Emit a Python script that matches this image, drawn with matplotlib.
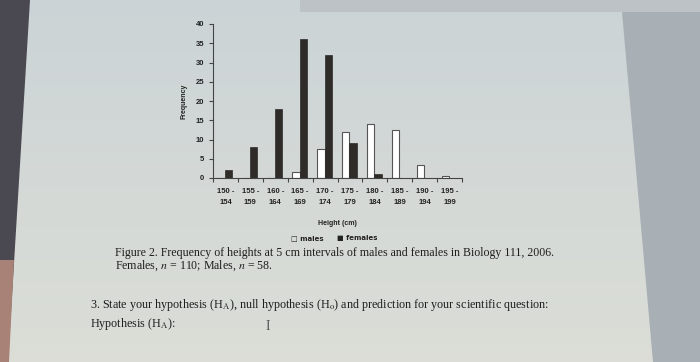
import numpy as np
import matplotlib
matplotlib.use('Agg')
import matplotlib.pyplot as plt
from matplotlib.patches import Polygon

# Height classes (cm) and counts
bins = ['150 -\n154', '155 -\n159', '160 -\n164', '165 -\n169', '170 -\n174',
        '175 -\n179', '180 -\n184', '185 -\n189', '190 -\n194', '195 -\n199']
males = [0, 0, 0, 1.5, 7.5, 12, 14, 12.5, 3.5, 0.5]
females = [2, 8, 18, 36, 32, 9, 1, 0, 0, 0]

plt.rcParams['mathtext.fontset'] = 'stix'

W, H = 700, 362
fig = plt.figure(figsize=(7, 3.62), dpi=100)

# photo background: page with soft gradient, dark desk left, grey screen right
bg = fig.add_axes([0, 0, 1, 1], zorder=-5)
bg.set_xlim(0, W)
bg.set_ylim(H, 0)
bg.axis('off')
top = np.array([0.80, 0.83, 0.84])
bot = np.array([0.86, 0.87, 0.84])
t = np.linspace(0, 1, 64)[:, None, None]
grad = top * (1 - t) + bot * t
bg.imshow(np.repeat(grad, 2, axis=1), extent=[0, W, H, 0], aspect='auto')
bg.add_patch(Polygon([(0, 0), (30, 0), (8, 362), (0, 362)], closed=True,
                     facecolor='#4a4850', edgecolor='none'))
bg.add_patch(Polygon([(0, 260), (14, 260), (9, 362), (0, 362)], closed=True,
                     facecolor='#a88276', edgecolor='none'))
bg.add_patch(Polygon([(622, 12), (700, 12), (700, 362), (653, 362)], closed=True,
                     facecolor='#a8afb5', edgecolor='none'))
bg.add_patch(Polygon([(300, 0), (700, 0), (700, 12), (300, 12)], closed=True,
                     facecolor='#bcc2c5', edgecolor='none'))

ax = fig.add_axes([213 / W, 1 - 178 / H, (462 - 213) / W, (178 - 24) / H])
ax.set_facecolor('none')

x = np.arange(len(bins))
w = 0.3
ax.bar(x + 0.5 - w / 2 - 0.02, males, width=w, color='white', edgecolor='#555555', linewidth=0.8)
ax.bar(x + 0.5 + w / 2 - 0.02, females, width=w, color='#2e2b28', edgecolor='#2e2b28', linewidth=0.5)

ax.set_xlim(0, len(bins))
ax.set_ylim(0, 40)
ax.set_yticks(range(0, 41, 5))
ax.set_xticks(range(0, len(bins) + 1))
ax.set_xticklabels([])
ax.set_xticks(x + 0.5, minor=True)
ax.set_xticklabels(bins, minor=True, fontsize=5.5, fontweight='bold',
                   family='Liberation Sans', color='#222222', linespacing=1.8)
ax.tick_params(axis='x', which='minor', length=0, pad=7)
ax.tick_params(axis='x', which='major', length=3, color='#444444')
ax.tick_params(axis='y', labelsize=5.5, length=3, color='#444444', labelcolor='#222222')
for lab in ax.get_yticklabels():
    lab.set_fontweight('bold')
    lab.set_family('Liberation Sans')
for s in ['top', 'right']:
    ax.spines[s].set_visible(False)
for s in ['left', 'bottom']:
    ax.spines[s].set_color('#444444')
    ax.spines[s].set_linewidth(0.8)

ax.set_ylabel('Frequency', fontsize=5, fontweight='bold', family='Liberation Sans',
              color='#222222', labelpad=6)
ax.set_xlabel('Height (cm)', fontsize=5, fontweight='bold', family='Liberation Sans',
              color='#222222', labelpad=10)

# legend
fig.text(291 / W, 1 - 238 / H, '\u25a1 males', fontsize=5, fontweight='bold',
         family='DejaVu Sans', color='#222222', va='center')
fig.text(337 / W, 1 - 238 / H, '\u25a0 females', fontsize=5, fontweight='bold',
         family='DejaVu Sans', color='#222222', va='center')

serif = 'Liberation Serif'
fs = 8.6
fig.text(115 / W, 1 - 253 / H,
         'Figure 2. Frequency of heights at 5 cm intervals of males and females in Biology 111, 2006.',
         fontsize=fs, family=serif, color='#1e1e1e', va='center')
fig.text(115 / W, 1 - 266 / H, 'Females, $n$ = 110; Males, $n$ = 58.',
         fontsize=fs, family=serif, color='#1e1e1e', va='center')

fig.text(90 / W, 1 - 305 / H,
         r'3. State your hypothesis (H$_\mathrm{A}$), null hypothesis (H$_\mathrm{o}$) '
         'and prediction for your scientific question:',
         fontsize=8.7, family=serif, color='#1e1e1e', va='center')
fig.text(90 / W, 1 - 324 / H, r'Hypothesis (H$_\mathrm{A}$):',
         fontsize=8.7, family=serif, color='#1e1e1e', va='center')
fig.text(268 / W, 1 - 327 / H, 'I', fontsize=10, family=serif, color='#555555',
         va='center', ha='center')

fig.savefig('out.png', dpi=100)
